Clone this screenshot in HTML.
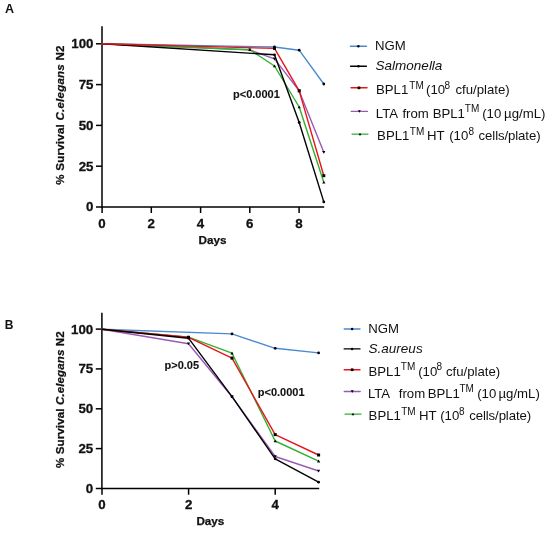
<!DOCTYPE html>
<html><head><meta charset="utf-8"><title>Figure</title>
<style>
html,body{margin:0;padding:0;background:#fff;}
body{width:550px;height:534px;overflow:hidden;}
svg{display:block;}
text{font-family:"Liberation Sans",Arial,sans-serif;fill:#111;}
.b{font-weight:bold;stroke:#111;stroke-width:0.25px;}
.an{font-weight:bold;stroke:#111;stroke-width:0.1px;}
.tk{font-weight:bold;font-size:13.3px;stroke:#111;stroke-width:0.3px;}
.lg{font-size:13.2px;}
.sp{font-size:10px;}
.ln{fill:none;stroke-width:1.4;stroke-linejoin:round;stroke-linecap:round;}
.ax{stroke:#000;stroke-width:1.5;fill:none;}
</style></head><body>
<svg width="550" height="534" viewBox="0 0 550 534">
<rect width="550" height="534" fill="#fff"/>
<text font-weight="bold" x="5" y="12.8" font-size="12.5">A</text>
<path class="ax" d="M102 26.3V207H324.2"/>
<path class="ax" d="M96 207.0H102"/><text class="tk" x="93.5" y="211.3" text-anchor="end">0</text>
<path class="ax" d="M96 166.2H102"/><text class="tk" x="93.5" y="170.5" text-anchor="end">25</text>
<path class="ax" d="M96 125.4H102"/><text class="tk" x="93.5" y="129.7" text-anchor="end">50</text>
<path class="ax" d="M96 84.6H102"/><text class="tk" x="93.5" y="88.9" text-anchor="end">75</text>
<path class="ax" d="M96 43.8H102"/><text class="tk" x="93.5" y="48.1" text-anchor="end">100</text>
<path class="ax" d="M102.1 207V213"/><text class="tk" x="101.9" y="227.5" text-anchor="middle">0</text>
<path class="ax" d="M151.3 207V213"/><text class="tk" x="151.1" y="227.5" text-anchor="middle">2</text>
<path class="ax" d="M200.6 207V213"/><text class="tk" x="200.4" y="227.5" text-anchor="middle">4</text>
<path class="ax" d="M249.8 207V213"/><text class="tk" x="249.6" y="227.5" text-anchor="middle">6</text>
<path class="ax" d="M299.1 207V213"/><text class="tk" x="298.9" y="227.5" text-anchor="middle">8</text>
<text class="b" x="212.6" y="243.5" font-size="11.7" text-anchor="middle">Days</text>
<text class="b" font-size="11.6" letter-spacing="0.2" transform="translate(64.2 115) rotate(-90)" text-anchor="middle">% Survival <tspan font-style="italic">C.elegans</tspan> N2</text>
<path class="ln" d="M102.0 43.8 L274.5 47.0 L299.2 50.2 L323.8 84.0" stroke="#4a8ad0"/><circle cx="274.5" cy="47.0" r="1.40" fill="#000"/><circle cx="299.2" cy="50.2" r="1.40" fill="#000"/><circle cx="323.8" cy="84.0" r="1.40" fill="#000"/>
<path class="ln" d="M102.0 43.8 L249.8 49.9 L274.5 58.9 L299.2 90.9 L323.8 152.2" stroke="#9b59b6"/><path d="M248.2 48.6H251.4L249.8 51.5Z" fill="#000"/><path d="M272.9 57.6H276.1L274.5 60.5Z" fill="#000"/><path d="M297.6 89.6H300.8L299.2 92.5Z" fill="#000"/><path d="M322.2 151.0H325.4L323.8 153.8Z" fill="#000"/>
<path class="ln" d="M102.0 43.8 L249.8 49.7 L274.5 66.0 L299.2 107.0 L323.8 182.2" stroke="#30b030"/><path d="M248.2 50.9H251.4L249.8 48.1Z" fill="#000"/><path d="M272.9 67.2H276.1L274.5 64.4Z" fill="#000"/><path d="M297.6 108.3H300.8L299.2 105.5Z" fill="#000"/><path d="M322.2 183.5H325.4L323.8 180.7Z" fill="#000"/>
<path class="ln" d="M102.0 43.8 L274.5 54.8 L299.2 122.5 L323.8 201.9" stroke="#000"/><circle cx="274.5" cy="54.8" r="1.40" fill="#000"/><circle cx="299.2" cy="122.5" r="1.40" fill="#000"/><circle cx="323.8" cy="201.9" r="1.40" fill="#000"/>
<path class="ln" d="M102.0 43.8 L274.5 48.4 L299.2 90.9 L323.8 175.8" stroke="#e8141c"/><rect x="273.0" y="46.9" width="3.0" height="3.0" fill="#000"/><rect x="297.7" y="89.4" width="3.0" height="3.0" fill="#000"/><rect x="322.3" y="174.2" width="3.0" height="3.0" fill="#000"/>
<text class="an" x="233" y="97.8" font-size="11">p&lt;0.0001</text>
<path class="ln" d="M350.4 46.2H366.4" stroke="#4a8ad0"/><circle cx="358.4" cy="46.2" r="1.26" fill="#000"/><text class="lg" x="375" y="50.3">NGM</text>
<path class="ln" d="M350.6 66.2H366.4" stroke="#000"/><circle cx="358.5" cy="66.2" r="1.26" fill="#000"/><text class="lg" x="375.6" y="70.4" style="font-style:italic;font-size:13.5px">Salmonella</text>
<path class="ln" d="M351 87.8H367" stroke="#e8141c"/><rect x="357.6" y="86.5" width="2.7" height="2.7" fill="#000"/><text class="lg" x="376" y="94.2">BPL1</text><text class="sp" x="409.3" y="88.9">TM</text><text class="lg" x="426.1" y="94.2">(10</text><text class="sp" x="444.5" y="88.9">8</text><text class="lg" x="455.5" y="94.2">cfu/plate)</text>
<path class="ln" d="M351.3 111.4H367.4" stroke="#9b59b6"/><path d="M357.9 110.2H360.8L359.4 112.8Z" fill="#000"/><text class="lg" x="375.8" y="117.6">LTA</text><text class="lg" x="402.4" y="117.6">from</text><text class="lg" x="432.7" y="117.6">BPL1</text><text class="sp" x="464.8" y="112.3">TM</text><text class="lg" x="482.2" y="117.6">(10</text><text class="lg" x="504.1" y="117.6">µg/mL)</text>
<path class="ln" d="M352 134.1H368" stroke="#30b030"/><path d="M358.6 135.3H361.4L360.0 132.7Z" fill="#000"/><text class="lg" x="377.1" y="140.2">BPL1</text><text class="sp" x="409.8" y="134.9">TM</text><text class="lg" x="427" y="140.2">HT</text><text class="lg" x="449.2" y="140.2">(10</text><text class="sp" x="468.6" y="134.9">8</text><text class="lg" x="478.6" y="140.2" letter-spacing="-0.1">cells/plate)</text>
<text font-weight="bold" x="4.7" y="329" font-size="12">B</text>
<path class="ax" d="M101.9 312.8V488.5H319.2"/>
<path class="ax" d="M95.8 488.5H102"/><text class="tk" x="93.2" y="493.0" text-anchor="end">0</text>
<path class="ax" d="M95.8 448.6H102"/><text class="tk" x="93.2" y="453.1" text-anchor="end">25</text>
<path class="ax" d="M95.8 408.8H102"/><text class="tk" x="93.2" y="413.3" text-anchor="end">50</text>
<path class="ax" d="M95.8 368.9H102"/><text class="tk" x="93.2" y="373.4" text-anchor="end">75</text>
<path class="ax" d="M95.8 329.1H102"/><text class="tk" x="93.2" y="333.6" text-anchor="end">100</text>
<path class="ax" d="M102.0 488.5V494.7"/><text class="tk" x="102.0" y="508.5" text-anchor="middle">0</text>
<path class="ax" d="M188.6 488.5V494.7"/><text class="tk" x="188.6" y="508.5" text-anchor="middle">2</text>
<path class="ax" d="M275.2 488.5V494.7"/><text class="tk" x="275.2" y="508.5" text-anchor="middle">4</text>
<text class="b" x="210.4" y="525" font-size="11.7" text-anchor="middle">Days</text>
<text class="b" font-size="11.6" letter-spacing="0.1" transform="translate(64.2 399.6) rotate(-90)" text-anchor="middle">% Survival <tspan font-style="italic">C.elegans</tspan> N2</text>
<path class="ln" d="M102.0 329.2 L232.0 333.9 L275.2 348.3 L318.6 352.9" stroke="#4a8ad0"/><circle cx="232.0" cy="333.9" r="1.40" fill="#000"/><circle cx="275.2" cy="348.3" r="1.40" fill="#000"/><circle cx="318.6" cy="352.9" r="1.40" fill="#000"/>
<path class="ln" d="M102.0 329.2 L188.5 343.7 L232.0 396.7 L275.2 456.5 L318.6 471.0" stroke="#9b59b6"/><path d="M186.9 342.4H190.1L188.5 345.3Z" fill="#000"/><path d="M230.4 395.4H233.6L232.0 398.3Z" fill="#000"/><path d="M273.6 455.2H276.8L275.2 458.1Z" fill="#000"/><path d="M317.0 469.7H320.2L318.6 472.6Z" fill="#000"/>
<path class="ln" d="M102.0 329.2 L188.5 337.1 L232.0 353.2 L275.2 441.0 L318.6 461.2" stroke="#30b030"/><path d="M186.9 338.4H190.1L188.5 335.5Z" fill="#000"/><path d="M230.4 354.5H233.6L232.0 351.6Z" fill="#000"/><path d="M273.6 442.3H276.8L275.2 439.4Z" fill="#000"/><path d="M317.0 462.5H320.2L318.6 459.6Z" fill="#000"/>
<path class="ln" d="M102.0 329.2 L188.5 337.3 L232.0 358.1 L275.2 434.6 L318.6 455.0" stroke="#e8141c"/><rect x="187.0" y="335.8" width="3.0" height="3.0" fill="#000"/><rect x="230.5" y="356.6" width="3.0" height="3.0" fill="#000"/><rect x="273.7" y="433.1" width="3.0" height="3.0" fill="#000"/><rect x="317.1" y="453.5" width="3.0" height="3.0" fill="#000"/>
<path class="ln" d="M102.0 329.2 L188.5 338.2 L232.0 396.7 L275.2 458.8 L318.6 482.2" stroke="#000"/><circle cx="188.5" cy="338.2" r="1.40" fill="#000"/><circle cx="232.0" cy="396.7" r="1.40" fill="#000"/><circle cx="275.2" cy="458.8" r="1.40" fill="#000"/><circle cx="318.6" cy="482.2" r="1.40" fill="#000"/>
<text class="an" x="164.5" y="369.2" font-size="11">p&gt;0.05</text>
<text class="an" x="257.8" y="395.6" font-size="11">p&lt;0.0001</text>
<path class="ln" d="M344.2 329H360" stroke="#4a8ad0"/><circle cx="352.1" cy="329.0" r="1.26" fill="#000"/><text class="lg" x="368.2" y="333.2">NGM</text>
<path class="ln" d="M344.2 348.9H360" stroke="#000"/><circle cx="352.1" cy="348.9" r="1.26" fill="#000"/><text class="lg" x="368.6" y="352.8" style="font-style:italic;font-size:13.5px">S.aureus</text>
<path class="ln" d="M344.2 369.8H360" stroke="#e8141c"/><rect x="350.8" y="368.4" width="2.7" height="2.7" fill="#000"/><text class="lg" x="368.5" y="375.6">BPL1</text><text class="sp" x="400.8" y="370.3">TM</text><text class="lg" x="418.2" y="375.6">(10</text><text class="sp" x="436.6" y="370.3">8</text><text class="lg" x="446" y="375.6">cfu/plate)</text>
<path class="ln" d="M344.3 391.5H360.2" stroke="#9b59b6"/><path d="M350.8 390.3H353.7L352.2 392.9Z" fill="#000"/><text class="lg" x="367.9" y="397.6">LTA</text><text class="lg" x="398.8" y="397.6">from</text><text class="lg" x="427.7" y="397.6">BPL1</text><text class="sp" x="459.5" y="392.3">TM</text><text class="lg" x="477.2" y="397.6">(10</text><text class="lg" x="498.5" y="397.6">µg/mL)</text>
<path class="ln" d="M345 414.1H361" stroke="#30b030"/><path d="M351.6 415.3H354.4L353.0 412.7Z" fill="#000"/><text class="lg" x="368.6" y="419.8">BPL1</text><text class="sp" x="401.2" y="414.5">TM</text><text class="lg" x="419" y="419.8">HT</text><text class="lg" x="440.2" y="419.8">(10</text><text class="sp" x="459" y="414.5">8</text><text class="lg" x="469.2" y="419.8" letter-spacing="-0.1">cells/plate)</text>
</svg></body></html>
